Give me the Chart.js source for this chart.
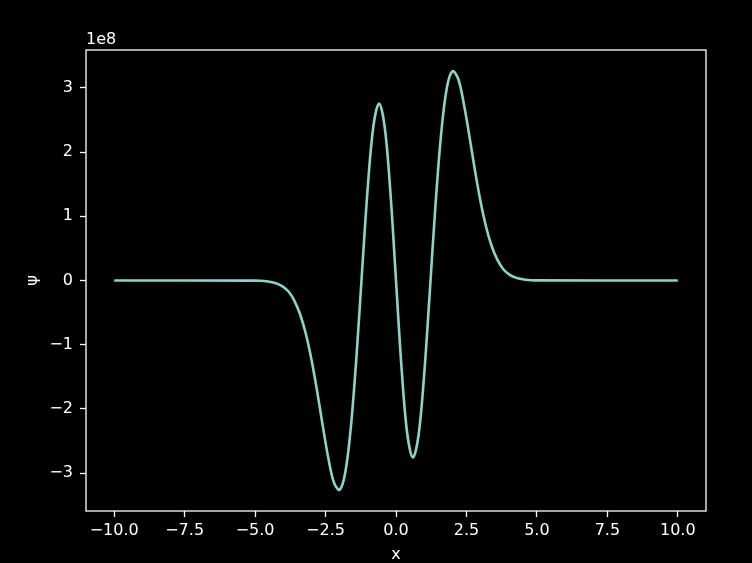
<!DOCTYPE html>
<html>
<head>
<meta charset="utf-8">
<script src="https://cdn.jsdelivr.net/npm/chart.js@4.4.0/dist/chart.umd.min.js"></script>
<style>
  html, body { margin: 0; padding: 0; background: #000; }
  #wrap { width: 752px; height: 563px; }
</style>
</head>
<body>
<div id="wrap"><canvas id="psiChart"></canvas></div>
<script>
// x positions
const xValues = [
  -10,
  -5.0, -4.8, -4.6, -4.4, -4.2, -4.0, -3.8, -3.6, -3.4, -3.2,
  -3.0, -2.8, -2.6, -2.4, -2.2, -2.0, -1.8, -1.6, -1.4, -1.2,
  -1.0, -0.8, -0.6, -0.4, -0.2, 0,
  0.2, 0.4, 0.6, 0.8, 1.0, 1.2, 1.4, 1.6, 1.8, 2.0,
  2.2, 2.4, 2.6, 2.8, 3.0, 3.2, 3.4, 3.6, 3.8, 4.0,
  4.2, 4.4, 4.6, 4.8, 5.0,
  10
];
// psi at those x, in units of 1e8
const psiValues = [
  0,
  -0.002, -0.005, -0.012, -0.026, -0.052, -0.10, -0.18, -0.32, -0.53, -0.83,
  -1.23, -1.72, -2.26, -2.77, -3.15, -3.26, -2.99, -2.275, -1.166, 0.169,
  1.463, 2.41, 2.756, 2.387, 1.381, 0,
  -1.381, -2.387, -2.756, -2.41, -1.463, -0.169, 1.166, 2.275, 2.99, 3.26,
  3.15, 2.77, 2.26, 1.72, 1.23, 0.83, 0.53, 0.32, 0.18, 0.10,
  0.052, 0.026, 0.012, 0.005, 0.002,
  0
];
const xTicks = [-10, -7.5, -5, -2.5, 0, 2.5, 5, 7.5, 10];
const yTicks = [-3, -2, -1, 0, 1, 2, 3];

const FONT = 'DejaVu Sans';
const minus = s => s.replace('-', '\u2212');

// frame around the plot area and the offset text
const framePlugin = {
  id: 'frame',
  afterDraw(chart) {
    const { ctx, chartArea: a } = chart;
    ctx.save();
    ctx.strokeStyle = '#ffffff';
    ctx.lineWidth = 1.3;
    ctx.strokeRect(a.left, a.top, a.right - a.left, a.bottom - a.top);
    ctx.fillStyle = '#ffffff';
    ctx.font = '16px "' + FONT + '"';
    ctx.textAlign = 'left';
    ctx.textBaseline = 'alphabetic';
    ctx.fillText('1e8', a.left, a.top - 6);
    ctx.restore();
  }
};

const ctx = document.getElementById('psiChart').getContext('2d');
const chart = new Chart(ctx, {
  type: 'line',
  data: {
    datasets: [{
      label: 'psi',
      data: xValues.map((x, i) => ({ x: x, y: psiValues[i] })),
      borderColor: '#8dd3c7',
      borderWidth: 2.6,
      pointRadius: 0,
      tension: 0.35,
      fill: false
    }]
  },
  options: {
    responsive: true,
    maintainAspectRatio: false,
    animation: false,
    layout: { padding: { top: 50, right: 46, left: 0, bottom: 0 } },
    plugins: {
      legend: { display: false },
      tooltip: { enabled: false }
    },
    scales: {
      x: {
        type: 'linear',
        min: -11,
        max: 11,
        afterBuildTicks: s => { s.ticks = xTicks.map(v => ({ value: v })); },
        afterFit: s => { s.height = 52; },
        grid: { drawOnChartArea: false, drawTicks: true, tickLength: 6, tickWidth: 1.3, color: '#ffffff' },
        border: { display: false },
        ticks: {
          color: '#ffffff',
          padding: 4,
          maxRotation: 0,
          font: { family: FONT, size: 16 },
          callback: v => minus(v.toFixed(1))
        },
        title: {
          display: true,
          text: 'x',
          color: '#ffffff',
          font: { family: FONT, size: 16, lineHeight: 1 },
          padding: 0
        }
      },
      y: {
        type: 'linear',
        min: -3.59,
        max: 3.59,
        afterBuildTicks: s => { s.ticks = yTicks.map(v => ({ value: v })); },
        afterFit: s => { s.width = 86; },
        grid: { drawOnChartArea: false, drawTicks: true, tickLength: 6, tickWidth: 1.3, color: '#ffffff' },
        border: { display: false },
        ticks: {
          color: '#ffffff',
          padding: 7,
          font: { family: FONT, size: 16 },
          callback: v => minus(String(v))
        },
        title: {
          display: true,
          text: 'ψ',
          color: '#ffffff',
          font: { family: FONT, size: 16, lineHeight: 1 },
          padding: { top: 25, bottom: 0 }
        }
      }
    }
  },
  plugins: [framePlugin]
});
</script>
</body>
</html>
